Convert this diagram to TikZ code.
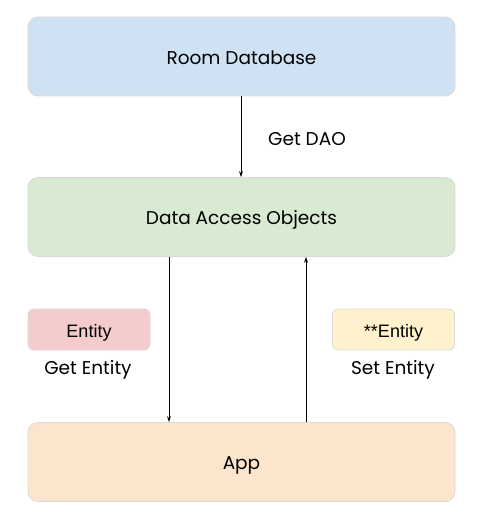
\documentclass[tikz,border=0pt]{standalone}
\usepackage{fontspec}
\setmainfont{Poppins}
\newfontfamily\arialfont{Liberation Sans}
\usetikzlibrary{arrows.meta}
\definecolor{cblue}{HTML}{CFE2F3}
\definecolor{cgreen}{HTML}{D9EAD3}
\definecolor{corange}{HTML}{FCE5CD}
\definecolor{cred}{HTML}{F4CCCC}
\definecolor{cyellow}{HTML}{FFF2CC}
\definecolor{cborder}{HTML}{D9D9D9}
\begin{document}
\begin{tikzpicture}[x=1pt,y=-1pt,
  bigbox/.style={draw=cborder, line width=0.8pt, rounded corners=10pt, minimum width=427pt, minimum height=79pt, font=\fontsize{18.5}{22}\selectfont, inner sep=0pt, text height=15.9pt, text depth=0pt},
  smallbox/.style={draw=cborder, line width=0.8pt, rounded corners=6pt, minimum width=122pt, minimum height=41pt, font=\arialfont\fontsize{18}{21}\selectfont, inner sep=0pt, text height=15.9pt, text depth=0pt},
  lbl/.style={font=\fontsize{18.5}{22}\selectfont, inner sep=0pt, text height=14.9pt, text depth=0pt},
  arr/.style={-{Stealth[length=6pt,width=4pt]}, line width=0.9pt}]
\useasboundingbox (0,0) rectangle (482,518);
\node[bigbox, fill=cblue] (db) at (241.5,56.5) {Room Database};
\node[bigbox, fill=cgreen] (dao) at (241.5,217) {Data Access Objects};
\node[bigbox, fill=corange] (app) at (241.5,462) {App};
\node[smallbox, fill=cred] (ent) at (89,329.5) {Entity};
\node[smallbox, fill=cyellow] (sent) at (393.5,329.5) {**Entity};
\node[lbl] (getdao) at (307,138) {Get DAO};
\node[lbl] (getent) at (88,367.5) {Get Entity};
\node[lbl] (setent) at (393,367.5) {Set Entity};
\draw[arr] (db.south -| 241,0) -- (dao.north -| 241,0);
\draw[arr] (dao.south -| 169,0) -- (app.north -| 169,0);
\draw[arr] (app.north -| 306,0) -- (dao.south -| 306,0);
\end{tikzpicture}
\end{document}
